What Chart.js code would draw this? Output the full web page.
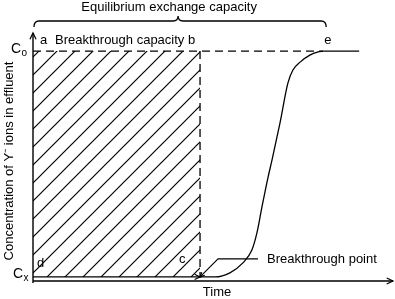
<!DOCTYPE html>
<html>
<head>
<meta charset="utf-8">
<script src="https://cdn.jsdelivr.net/npm/chart.js@4"></script>
<style>
  body { margin: 0; background: #fff; }
  #wrap { width: 395px; height: 299px; position: relative; }
</style>
</head>
<body>
<div id="wrap"><canvas id="chart"></canvas></div>
<script>
// Breakthrough curve (time in arbitrary units, concentration: Cx = 0, Co = 1)
const curveTime = [4.64, 4.72, 5.06, 5.47, 5.83, 6.08, 6.22, 6.36, 6.53, 6.64, 6.86, 7.08, 7.22, 7.42, 7.69, 7.92, 8.06];
const curveConc = [0, 0, 0, 0.018, 0.062, 0.119, 0.195, 0.31, 0.442, 0.518, 0.681, 0.858, 0.916, 0.951, 0.982, 0.996, 1];

const breakthroughTime = 4.64;   // b / c
const exhaustionTime = 8.06;     // e
const plateauEnd = 9.06;
const pointerTime = [4.64, 5.14, 6.25];
const pointerConc = [0, 0.08, 0.08];

const xTitle = 'Time';
const yTitle = 'Concentration of Y\u207B ions in effluent';
const braceLabel = 'Equilibrium exchange capacity';
const capacityLabel = 'Breakthrough capacity b';
const pointLabel = 'Breakthrough point';

const FONT = '13px "Liberation Sans", Arial, sans-serif';

// diagonal hatch pattern
function makeHatch() {
  const s = 18;
  const c = document.createElement('canvas');
  c.width = s; c.height = s;
  const g = c.getContext('2d');
  g.strokeStyle = '#000';
  g.lineWidth = 1.2;
  g.beginPath();
  g.moveTo(0, s); g.lineTo(s, 0);
  g.moveTo(-2, 2); g.lineTo(2, -2);
  g.moveTo(s - 2, s + 2); g.lineTo(s + 2, s - 2);
  g.stroke();
  return g.createPattern(c, 'repeat');
}

function pts(xs, ys) {
  return xs.map((x, i) => ({ x: x, y: ys[i] }));
}

function arrowHead(ctx, x, y, angle, size) {
  ctx.beginPath();
  ctx.moveTo(x - size * Math.cos(angle - 0.45), y - size * Math.sin(angle - 0.45));
  ctx.lineTo(x, y);
  ctx.lineTo(x - size * Math.cos(angle + 0.45), y - size * Math.sin(angle + 0.45));
  ctx.stroke();
}

function subText(ctx, main, sub, x, y) {
  ctx.font = '14px "Liberation Sans", Arial, sans-serif';
  ctx.textAlign = 'left';
  ctx.textBaseline = 'middle';
  ctx.fillText(main, x, y);
  const w = ctx.measureText(main).width;
  ctx.font = '10px "Liberation Sans", Arial, sans-serif';
  ctx.fillText(sub, x + w + 0.5, y + 4);
}

const decorations = {
  id: 'decorations',
  afterDatasetsDraw(chart) {
    const ctx = chart.ctx;
    const xs = chart.scales.x, ys = chart.scales.y;
    const px = v => xs.getPixelForValue(v);
    const py = v => ys.getPixelForValue(v);
    const area = chart.chartArea;
    ctx.save();
    ctx.strokeStyle = '#000';
    ctx.fillStyle = '#000';
    ctx.lineWidth = 1.4;

    // axes
    ctx.beginPath();
    ctx.moveTo(area.left, area.bottom + 2);
    ctx.lineTo(area.left, area.top);
    ctx.moveTo(area.left, area.bottom);
    ctx.lineTo(area.right, area.bottom);
    ctx.stroke();
    ctx.lineWidth = 1.2;
    arrowHead(ctx, area.left, area.top, -Math.PI / 2, 7);
    arrowHead(ctx, area.right, area.bottom, 0, 7);
    // Cx arrow to c
    arrowHead(ctx, px(breakthroughTime), py(0), 0, 6);
    // pointer arrow
    const ang = Math.atan2(py(pointerConc[0]) - py(pointerConc[1]), px(pointerTime[0]) - px(pointerTime[1]));
    arrowHead(ctx, px(pointerTime[0]), py(pointerConc[0]), ang, 5);

    // brace
    const bl = px(0) + 1, br = px(exhaustionTime) + 3, bm = px(4.03);
    const by = 21, bend = 27, tip = 16;
    ctx.lineWidth = 1.3;
    ctx.beginPath();
    ctx.moveTo(bl, bend);
    ctx.quadraticCurveTo(bl, by, bl + 5, by);
    ctx.lineTo(bm - 5, by);
    ctx.quadraticCurveTo(bm, by, bm, tip);
    ctx.quadraticCurveTo(bm, by, bm + 5, by);
    ctx.lineTo(br - 5, by);
    ctx.quadraticCurveTo(br, by, br, bend);
    ctx.stroke();

    // texts
    ctx.font = FONT;
    ctx.textBaseline = 'middle';
    ctx.textAlign = 'center';
    ctx.fillText(braceLabel, bm - 9, 7);
    ctx.fillText(xTitle, 217, 292);
    ctx.textAlign = 'left';
    ctx.fillText('a', px(0) + 7, py(1) - 11);
    ctx.fillText(capacityLabel, px(0) + 22, py(1) - 11);
    ctx.fillText('e', px(exhaustionTime) + 1, py(1) - 11);
    ctx.fillText('d', px(0) + 4, py(0) - 14);
    ctx.fillText('c', px(breakthroughTime) - 21, py(0) - 18);
    ctx.fillText(pointLabel, px(pointerTime[2]) + 9, py(pointerConc[2]) + 1);

    subText(ctx, 'C', 'o', 11, py(1) - 2);
    subText(ctx, 'C', 'x', 13, py(0) - 3);

    ctx.save();
    ctx.translate(9, 161);
    ctx.rotate(-Math.PI / 2);
    ctx.textAlign = 'center';
    ctx.font = FONT;
    ctx.fillText(yTitle, 0, 0);
    ctx.restore();

    ctx.restore();
  }
};

const lineStyle = { showLine: true, pointRadius: 0, borderColor: '#000', borderWidth: 1.3, fill: false };

new Chart(document.getElementById('chart'), {
  type: 'scatter',
  data: {
    datasets: [
      Object.assign({}, lineStyle, {
        data: pts([0, breakthroughTime], [1, 1]),
        borderWidth: 0,
        fill: 'origin',
        backgroundColor: makeHatch()
      }),
      Object.assign({}, lineStyle, {
        data: pts([0, exhaustionTime], [1, 1]),
        borderDash: [8, 5]
      }),
      Object.assign({}, lineStyle, {
        data: pts([breakthroughTime, breakthroughTime], [1, 0]),
        borderDash: [8, 5]
      }),
      Object.assign({}, lineStyle, {
        data: pts([exhaustionTime, plateauEnd], [1, 1])
      }),
      Object.assign({}, lineStyle, {
        data: pts(curveTime, curveConc),
        cubicInterpolationMode: 'monotone'
      }),
      Object.assign({}, lineStyle, {
        data: pts([0, breakthroughTime], [0, 0])
      }),
      Object.assign({}, lineStyle, {
        data: pts(pointerTime, pointerConc),
        borderWidth: 1.1
      })
    ]
  },
  options: {
    responsive: true,
    maintainAspectRatio: false,
    animation: false,
    layout: { padding: { left: 33, right: 2, top: 33, bottom: 18 } },
    scales: {
      x: { type: 'linear', display: false, min: 0, max: 10 },
      y: { type: 'linear', display: false, min: -0.018, max: 1.08 }
    },
    plugins: {
      legend: { display: false },
      tooltip: { enabled: false }
    }
  },
  plugins: [decorations]
});
</script>
</body>
</html>
